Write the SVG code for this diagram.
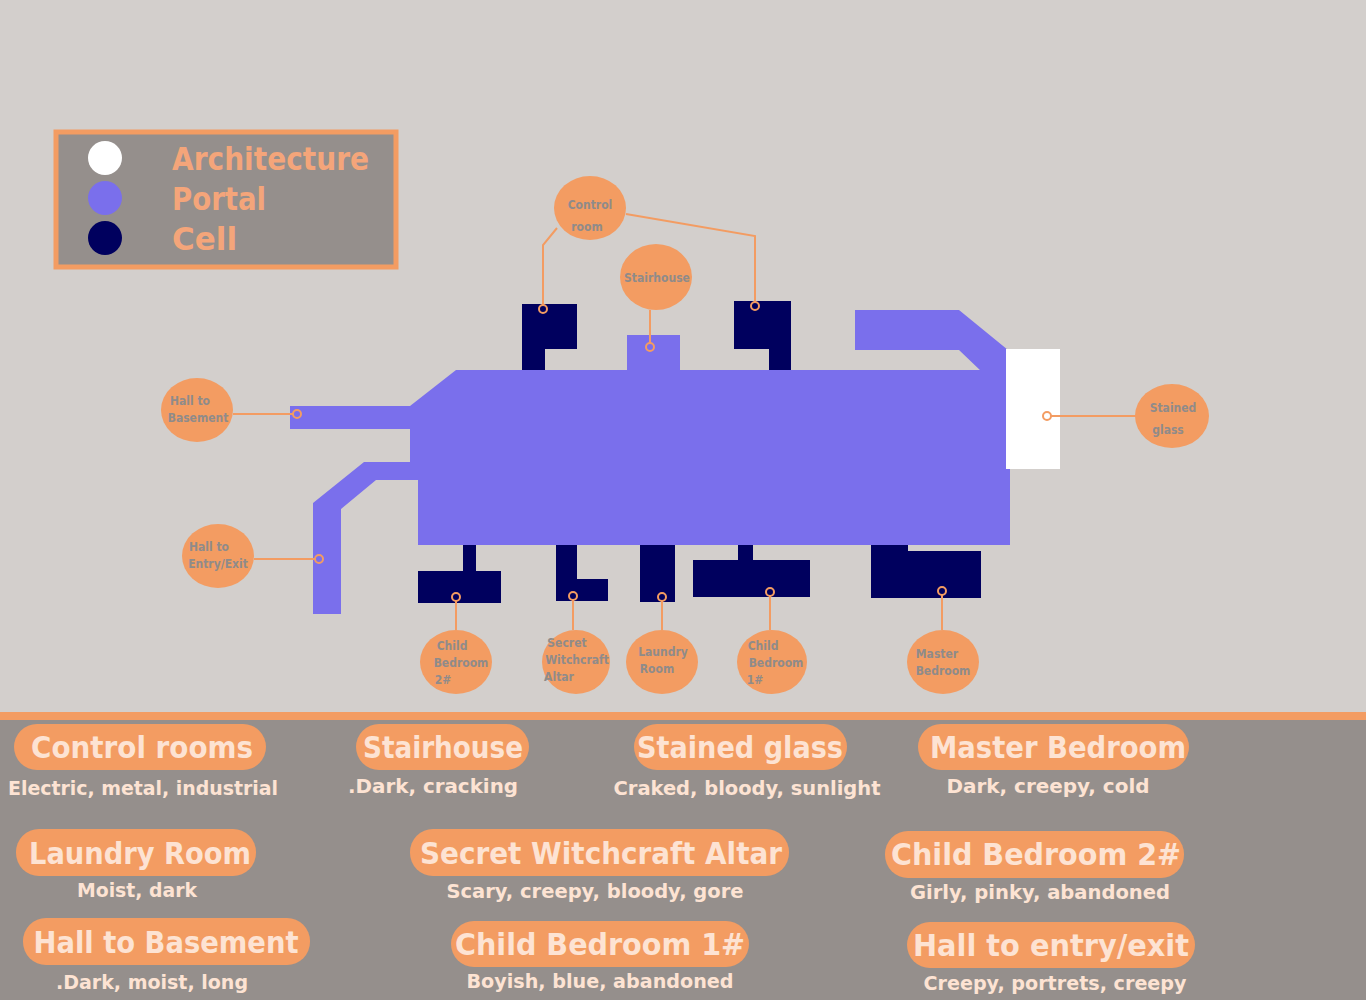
<svg xmlns="http://www.w3.org/2000/svg" width="1366" height="1000" viewBox="0 0 1366 1000">
<style>
.portal{fill:#7a6fec}
.cell{fill:#00005e}
.bub{fill:#f39c62}
.bt{font-family:"DejaVu Sans Condensed","DejaVu Sans",sans-serif;font-weight:bold;font-size:12px;fill:#8f8b8a;text-anchor:middle}
.con{fill:none;stroke:#f39c62;stroke-width:2}
.end{fill:none;stroke:#f39c62;stroke-width:2}
.lg{font-family:"DejaVu Sans Condensed","DejaVu Sans",sans-serif;font-weight:bold;font-size:32px;fill:#f4a57a}
.pt{font-family:"DejaVu Sans Condensed","DejaVu Sans",sans-serif;font-weight:bold;font-size:31px;fill:#fde3d3;text-anchor:middle}
.st{font-family:"DejaVu Sans Condensed","DejaVu Sans",sans-serif;font-weight:bold;font-size:20px;fill:#fde3d3;text-anchor:middle}
</style>
<rect width="1366" height="1000" fill="#d3cfcc"/>
<rect y="712" width="1366" height="288" fill="#958f8c"/>
<rect y="712" width="1366" height="8" fill="#f39c62"/>

<g id="legend">
<rect x="56" y="132" width="340" height="135" fill="#958f8c" stroke="#f39c62" stroke-width="5"/>
<circle cx="105" cy="158" r="17" fill="#ffffff"/>
<circle cx="105" cy="198" r="17" fill="#7a6fec"/>
<circle cx="105" cy="238" r="17" fill="#00005e"/>
<text class="lg" x="172" y="170" textLength="197" lengthAdjust="spacingAndGlyphs">Architecture</text>
<text class="lg" x="172" y="210" textLength="94" lengthAdjust="spacingAndGlyphs">Portal</text>
<text class="lg" x="172" y="250" textLength="65" lengthAdjust="spacingAndGlyphs">Cell</text>
</g>

<g id="map">
<polygon class="portal" points="456,370 1010,370 1010,545 418,545 418,480 410,480 410,429 290,429 290,406 410,406"/>
<polygon class="portal" points="418,462 364,462 313,503 313,614 341,614 341,509 376,480 418,480"/>
<polygon class="portal" points="855,310 959,310 1008,350 1008,372 982,372 959,350 855,350"/>
<rect class="portal" x="627" y="335" width="53" height="37"/>
<rect x="1006" y="349" width="54" height="120" fill="#ffffff"/>
<polygon class="cell" points="522,304 577,304 577,349 545,349 545,370 522,370"/>
<polygon class="cell" points="734,301 791,301 791,370 769,370 769,349 734,349"/>
<polygon class="cell" points="463,545 476,545 476,571 501,571 501,603 418,603 418,571 463,571"/>
<polygon class="cell" points="556,545 577,545 577,579 608,579 608,601 556,601"/>
<rect class="cell" x="640" y="545" width="35" height="57"/>
<polygon class="cell" points="738,545 753,545 753,560 810,560 810,597 693,597 693,560 738,560"/>
<polygon class="cell" points="871,545 908,545 908,551 981,551 981,598 871,598"/>
</g>

<g id="connectors">
<polyline class="con" points="557,228 543,245 543,305"/>
<polyline class="con" points="626,214 755,236 755,302"/>
<line class="con" x1="650" y1="310" x2="650" y2="343"/>
<line class="con" x1="233" y1="414" x2="293" y2="414"/>
<line class="con" x1="254" y1="559" x2="315" y2="559"/>
<line class="con" x1="1051" y1="416" x2="1136" y2="416"/>
<line class="con" x1="456" y1="601" x2="456" y2="630"/>
<line class="con" x1="573" y1="600" x2="573" y2="630"/>
<line class="con" x1="662" y1="601" x2="662" y2="630"/>
<line class="con" x1="770" y1="596" x2="770" y2="630"/>
<line class="con" x1="942" y1="595" x2="942" y2="630"/>
<circle class="end" cx="543" cy="309" r="4"/>
<circle class="end" cx="755" cy="306" r="4"/>
<circle class="end" cx="650" cy="347" r="4"/>
<circle class="end" cx="297" cy="414" r="4"/>
<circle class="end" cx="319" cy="559" r="4"/>
<circle class="end" cx="1047" cy="416" r="4"/>
<circle class="end" cx="456" cy="597" r="4"/>
<circle class="end" cx="573" cy="596" r="4"/>
<circle class="end" cx="662" cy="597" r="4"/>
<circle class="end" cx="770" cy="592" r="4"/>
<circle class="end" cx="942" cy="591" r="4"/>
</g>

<g id="n-control"><ellipse class="bub" cx="590" cy="208" rx="36" ry="32"/><text class="bt" x="590" y="209">Control</text><text class="bt" x="587" y="231">room</text></g>
<g id="n-stair"><ellipse class="bub" cx="656" cy="277" rx="36" ry="33"/><text class="bt" x="657" y="282" font-size="11">Stairhouse</text></g>
<g id="n-basement"><ellipse class="bub" cx="197" cy="410" rx="36" ry="32"/><text class="bt" x="190" y="405">Hall to</text><text class="bt" x="198" y="422">Basement</text></g>
<g id="n-entry"><ellipse class="bub" cx="218" cy="556" rx="36" ry="32"/><text class="bt" x="209" y="551">Hall to</text><text class="bt" x="218" y="568">Entry/Exit</text></g>
<g id="n-stained"><ellipse class="bub" cx="1172" cy="416" rx="37" ry="32"/><text class="bt" x="1173" y="412" font-size="15">Stained</text><text class="bt" x="1168" y="434" font-size="15">glass</text></g>
<g id="n-cb2"><ellipse class="bub" cx="456" cy="662" rx="36" ry="32"/><text class="bt" x="452" y="650">Child</text><text class="bt" x="461" y="667">Bedroom</text><text class="bt" x="443" y="684">2#</text></g>
<g id="n-swa"><ellipse class="bub" cx="576" cy="662" rx="34" ry="32"/><text class="bt" x="567" y="647">Secret</text><text class="bt" x="577" y="664">Witchcraft</text><text class="bt" x="559" y="681">Altar</text></g>
<g id="n-laundry"><ellipse class="bub" cx="662" cy="662" rx="36" ry="32"/><text class="bt" x="663" y="656">Laundry</text><text class="bt" x="657" y="673">Room</text></g>
<g id="n-cb1"><ellipse class="bub" cx="772" cy="662" rx="35" ry="32"/><text class="bt" x="763" y="650">Child</text><text class="bt" x="776" y="667">Bedroom</text><text class="bt" x="755" y="684">1#</text></g>
<g id="n-master"><ellipse class="bub" cx="943" cy="662" rx="36" ry="32"/><text class="bt" x="937" y="658">Master</text><text class="bt" x="943" y="675">Bedroom</text></g>

<g id="cards">
<rect class="bub" x="14" y="724" width="252" height="46" rx="23"/><text class="pt" x="142" y="758" textLength="222" lengthAdjust="spacingAndGlyphs">Control rooms</text>
<text class="st" x="143" y="795" textLength="270" lengthAdjust="spacingAndGlyphs">Electric, metal, industrial</text>
<rect class="bub" x="356" y="724" width="173" height="46" rx="23"/><text class="pt" x="443" y="758" textLength="160" lengthAdjust="spacingAndGlyphs">Stairhouse</text>
<text class="st" x="433" y="793" textLength="170" lengthAdjust="spacingAndGlyphs">.Dark, cracking</text>
<rect class="bub" x="634" y="724" width="213" height="46" rx="23"/><text class="pt" x="740" y="758" textLength="206" lengthAdjust="spacingAndGlyphs">Stained glass</text>
<text class="st" x="747" y="795" textLength="267" lengthAdjust="spacingAndGlyphs">Craked, bloody, sunlight</text>
<rect class="bub" x="918" y="724" width="271" height="46" rx="23"/><text class="pt" x="1058" y="758" textLength="256" lengthAdjust="spacingAndGlyphs">Master Bedroom</text>
<text class="st" x="1048" y="793" textLength="203" lengthAdjust="spacingAndGlyphs">Dark, creepy, cold</text>

<rect class="bub" x="16" y="829" width="240" height="47" rx="23"/><text class="pt" x="140" y="864" textLength="222" lengthAdjust="spacingAndGlyphs">Laundry Room</text>
<text class="st" x="137" y="897" textLength="120" lengthAdjust="spacingAndGlyphs">Moist, dark</text>
<rect class="bub" x="410" y="829" width="379" height="47" rx="23"/><text class="pt" x="601" y="864" textLength="362" lengthAdjust="spacingAndGlyphs">Secret Witchcraft Altar</text>
<text class="st" x="595" y="898" textLength="297" lengthAdjust="spacingAndGlyphs">Scary, creepy, bloody, gore</text>
<rect class="bub" x="885" y="831" width="299" height="47" rx="23"/><text class="pt" x="1036" y="865" textLength="290" lengthAdjust="spacingAndGlyphs">Child Bedroom 2#</text>
<text class="st" x="1040" y="899" textLength="260" lengthAdjust="spacingAndGlyphs">Girly, pinky, abandoned</text>

<rect class="bub" x="23" y="918" width="287" height="47" rx="23"/><text class="pt" x="166" y="953" textLength="265" lengthAdjust="spacingAndGlyphs">Hall to Basement</text>
<text class="st" x="152" y="989" textLength="192" lengthAdjust="spacingAndGlyphs">.Dark, moist, long</text>
<rect class="bub" x="451" y="921" width="298" height="46" rx="23"/><text class="pt" x="600" y="955" textLength="290" lengthAdjust="spacingAndGlyphs">Child Bedroom 1#</text>
<text class="st" x="600" y="988" textLength="267" lengthAdjust="spacingAndGlyphs">Boyish, blue, abandoned</text>
<rect class="bub" x="907" y="922" width="288" height="46" rx="23"/><text class="pt" x="1051" y="956" textLength="276" lengthAdjust="spacingAndGlyphs">Hall to entry/exit</text>
<text class="st" x="1055" y="990" textLength="263" lengthAdjust="spacingAndGlyphs">Creepy, portrets, creepy</text>
</g>
</svg>
